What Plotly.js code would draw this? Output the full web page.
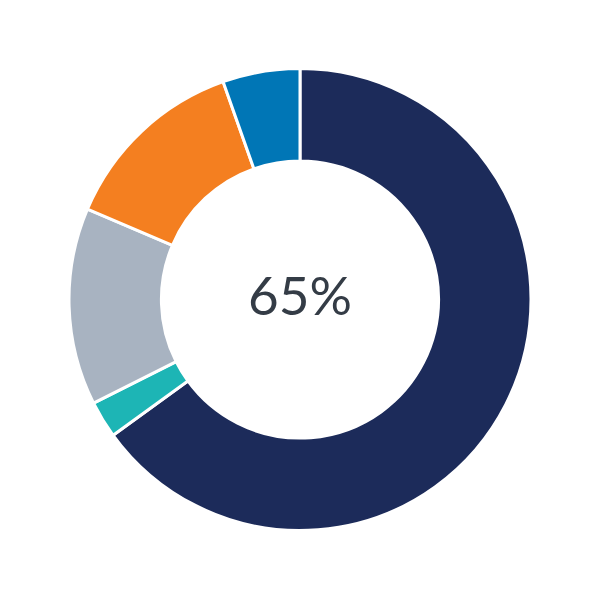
<!DOCTYPE html>
<html>
<head>
<meta charset="utf-8">
<script src="https://cdn.plot.ly/plotly-3.0.1.min.js"></script>
<style>html,body{margin:0;padding:0;background:#fff;}#chart{width:600px;height:599px;}</style>
</head>
<body>
<div id="chart"></div>
<script>
const labels = ["Navy", "Teal", "Gray", "Orange", "Blue"];
const values = [65, 2.6, 13.8, 13.2, 5.4];
const colors = ["#1c2b5a", "#1db5b5", "#a8b3c1", "#f47f20", "#0076b6"];
const centerText = "65%";

Plotly.newPlot("chart", [{
  type: "pie",
  labels: labels,
  values: values,
  hole: 0.6,
  sort: false,
  direction: "clockwise",
  rotation: 0,
  textinfo: "none",
  hoverinfo: "none",
  marker: {colors: colors, line: {color: "#ffffff", width: 3}},
  domain: {x: [0.115, 0.885], y: [0.114, 0.886]}
}], {
  width: 600, height: 599,
  margin: {l: 0, r: 0, t: 0, b: 0},
  showlegend: false,
  paper_bgcolor: "#ffffff",
  annotations: [{
    text: centerText, x: 0.5, y: 0.508, xref: "paper", yref: "paper",
    showarrow: false, font: {family: "Lato", size: 53, color: "#343c46", weight: 400}
  }]
}, {displayModeBar: false, staticPlot: true});
</script>
</body>
</html>
